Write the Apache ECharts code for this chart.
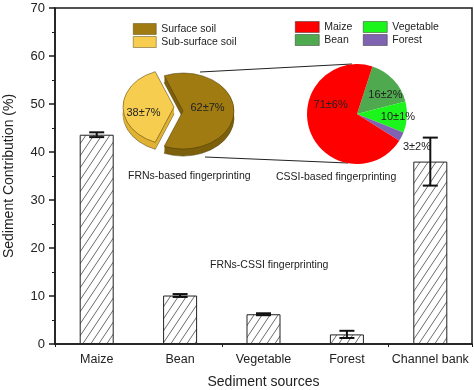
<!DOCTYPE html>
<html>
<head>
<meta charset="utf-8">
<script src="https://cdn.jsdelivr.net/npm/echarts@6/dist/echarts.min.js"></script>
<style>html,body{margin:0;padding:0;background:#fff}#c{width:474px;height:390px}</style>
</head>
<body>
<div id="c"></div>
<script>
// ---- data ----
const categories = ['Maize', 'Bean', 'Vegetable', 'Forest', 'Channel bank'];
const contribution = [43.6, 10.1, 6.2, 2.0, 38.0];
const contributionErr = [0.5, 0.3, 0.2, 0.75, 5.0];
const yMin = 0, yMax = 70, yStep = 10;

const soilNames = ['Surface soil', 'Sub-surface soil'];
const soilValues = [62, 38];
const soilErr = [7, 7];

const cssiNames = ['Bean', 'Vegetable', 'Forest', 'Maize'];
const cssiValues = [16, 10, 3, 71];
const cssiErr = [2, 1, 2, 6];

const FONT = 'Arial, "Liberation Sans", sans-serif';

// hatch pattern
const pat = document.createElement('canvas');
pat.width = 8; pat.height = 12;
(function () {
  const g = pat.getContext('2d');
  g.fillStyle = '#fff'; g.fillRect(0, 0, 8, 12);
  g.strokeStyle = '#444'; g.lineWidth = 0.8;
  for (let k = -1; k <= 1; k++) {
    g.beginPath(); g.moveTo(k * 8, 12); g.lineTo(k * 8 + 8, 0); g.stroke();
  }
})();

// 3D-ish soil pie (custom series)
const soilColors = ['#a07b12', '#f7cd4f'];
const soilSide = ['#7d600c', '#e0b234'];
const soilCenters = [[183, 111], [174, 107]];
const RX = 51, RY = 38, THICK = 7;
const soilTotal = soilValues.reduce((a, b) => a + b, 0);

function soilRender(i) {
  return function (params, api) {
    const v = api.value(0);
    let start = -Math.PI * soilValues[0] / soilTotal;
    for (let k = 0; k < i; k++) start += 2 * Math.PI * soilValues[k] / soilTotal;
    const end = start + 2 * Math.PI * v / soilTotal;
    const [cx, cy] = soilCenters[i];
    const sy = RY / RX;
    const children = [];
    for (let t = THICK; t >= 1; t--) {
      children.push({
        type: 'sector', x: cx, y: cy + t, scaleY: sy,
        shape: { cx: 0, cy: 0, r0: 0, r: RX, startAngle: start, endAngle: end, clockwise: true },
        style: { fill: soilSide[i], stroke: t === THICK ? '#4a3a08' : null, lineWidth: 0.6, strokeNoScale: true }
      });
    }
    children.push({
      type: 'sector', x: cx, y: cy, scaleY: sy,
      shape: { cx: 0, cy: 0, r0: 0, r: RX, startAngle: start, endAngle: end, clockwise: true },
      style: { fill: soilColors[i], stroke: '#4a3a08', lineWidth: 0.6, strokeNoScale: true }
    });
    const mid = (start + end) / 2;
    children.push({
      type: 'text',
      x: cx + Math.cos(mid) * RX * 0.5 + (i === 0 ? -1 : -5),
      y: cy + Math.sin(mid) * RY * 0.5 + (i === 0 ? -3 : 6),
      style: { text: v + '\u00b1' + soilErr[i] + '%', font: '11px ' + FONT, fill: '#222', align: 'center', verticalAlign: 'middle' }
    });
    return { type: 'group', children: children };
  };
}

const labelOffsets = { Bean: [8, 0], Vegetable: [13, 1], Forest: [35, 20], Maize: [0, -19] };
const cssiColors = { Maize: '#ff0000', Bean: '#4faa4f', Vegetable: '#1cf51c', Forest: '#7f62b0' };

const legendText = { fontSize: 10.5, color: '#222', lineHeight: 12, fontFamily: FONT };

const chart = echarts.init(document.getElementById('c'), null, { renderer: 'canvas' });
chart.setOption({
  animation: false,
  backgroundColor: '#fff',
  textStyle: { fontFamily: FONT },
  grid: { left: 55, right: 2, top: 8, bottom: 46, outerBoundsMode: 'none', containLabel: false,
    show: true, borderColor: '#1a1a1a', borderWidth: 1.5, backgroundColor: 'transparent' },
  legend: [
    {
      data: soilNames, orient: 'vertical', left: 133, top: 23, padding: 0, itemGap: 1,
      itemWidth: 23, itemHeight: 11, icon: 'rect', selectedMode: false,
      itemStyle: { borderColor: '#5a4a10', borderWidth: 0.5 }, textStyle: legendText
    },
    {
      data: ['Maize', 'Bean'], orient: 'vertical', left: 295, top: 21, padding: 0, itemGap: 1,
      itemWidth: 24, itemHeight: 11, icon: 'rect', selectedMode: false,
      itemStyle: { borderColor: '#333', borderWidth: 0.5 }, textStyle: legendText
    },
    {
      data: ['Vegetable', 'Forest'], orient: 'vertical', left: 363, top: 21, padding: 0, itemGap: 1,
      itemWidth: 24, itemHeight: 11, icon: 'rect', selectedMode: false,
      itemStyle: { borderColor: '#333', borderWidth: 0.5 }, textStyle: legendText
    }
  ],
  xAxis: [
    {
      type: 'category', data: categories, position: 'bottom',
      name: 'Sediment sources', nameLocation: 'middle', nameGap: 31,
      nameTextStyle: { fontSize: 14, color: '#222', fontFamily: FONT },
      axisLine: { lineStyle: { color: '#1a1a1a', width: 1.5 } },
      axisTick: { alignWithLabel: true, length: 6, lineStyle: { color: '#1a1a1a', width: 1.5 } },
      axisLabel: { interval: 0, fontSize: 12.5, color: '#222', margin: 9, fontFamily: FONT }
    },
    {
      type: 'category', data: categories, position: 'bottom',
      axisLine: { show: false },
      axisTick: { show: true, alignWithLabel: false, length: 3, lineStyle: { color: '#1a1a1a', width: 1 } },
      axisLabel: { show: false }
    }
  ],
  yAxis: {
    type: 'value', min: yMin, max: yMax, interval: yStep,
    name: 'Sediment Contribution (%)', nameLocation: 'middle', nameGap: 39,
    nameTextStyle: { fontSize: 14, color: '#222', fontFamily: FONT },
    axisLine: { show: true, lineStyle: { color: '#1a1a1a', width: 1.5 } },
    axisTick: { show: true, length: 6, lineStyle: { color: '#1a1a1a', width: 1.5 } },
    minorTick: { show: true, splitNumber: 2, length: 3, lineStyle: { color: '#1a1a1a', width: 1 } },
    splitLine: { show: false },
    axisLabel: { fontSize: 13, color: '#222', margin: 10, fontFamily: FONT }
  },
  graphic: [
    { type: 'line', z: 0, shape: { x1: 200, y1: 72, x2: 352, y2: 64 }, style: { stroke: '#222', lineWidth: 1 } },
    { type: 'line', z: 0, shape: { x1: 205, y1: 157, x2: 348, y2: 163 }, style: { stroke: '#222', lineWidth: 1 } },
    { type: 'text', left: 128, top: 171, style: { text: 'FRNs-based fingerprinting', font: '10.5px ' + FONT, fill: '#222' } },
    { type: 'text', left: 276, top: 172, style: { text: 'CSSI-based fingerprinting', font: '10.5px ' + FONT, fill: '#222' } },
    { type: 'text', left: 210, top: 260, style: { text: 'FRNs-CSSI fingerprinting', font: '10.5px ' + FONT, fill: '#222' } }
  ],
  series: [
    {
      type: 'bar', name: 'Contribution', data: contribution, barWidth: 34, xAxisIndex: 0,
      itemStyle: { color: { image: pat, repeat: 'repeat' }, borderColor: '#222', borderWidth: 1 },
      emphasis: { disabled: true }, z: 2
    },
    {
      type: 'custom', name: 'err', xAxisIndex: 0,
      data: categories.map((c, i) => [i, contribution[i] - contributionErr[i], contribution[i] + contributionErr[i]]),
      renderItem: function (params, api) {
        const lo = api.coord([api.value(0), api.value(1)]);
        const hi = api.coord([api.value(0), api.value(2)]);
        const h = 7.5;
        const st = { stroke: '#111', lineWidth: 2 };
        return {
          type: 'group', children: [
            { type: 'line', shape: { x1: lo[0], y1: lo[1], x2: hi[0], y2: hi[1] }, style: st },
            { type: 'line', shape: { x1: lo[0] - h, y1: lo[1], x2: lo[0] + h, y2: lo[1] }, style: st },
            { type: 'line', shape: { x1: hi[0] - h, y1: hi[1], x2: hi[0] + h, y2: hi[1] }, style: st }
          ]
        };
      },
      z: 3
    },
    {
      type: 'custom', name: soilNames[0], coordinateSystem: 'none', data: [[soilValues[0]]],
      itemStyle: { color: soilColors[0] }, renderItem: soilRender(0), z: 5
    },
    {
      type: 'custom', name: soilNames[1], coordinateSystem: 'none', data: [[soilValues[1]]],
      itemStyle: { color: soilColors[1] }, renderItem: soilRender(1), z: 5
    },
    {
      type: 'pie', name: 'CSSI', center: [357, 114], radius: 50, startAngle: 72, clockwise: true,
      emphasis: { disabled: true }, z: 5,
      labelLine: { show: false },
      data: cssiNames.map((n, i) => ({
        name: n, value: cssiValues[i],
        itemStyle: { color: cssiColors[n] },
        label: { show: true, position: 'inside', offset: labelOffsets[n], fontSize: 11, color: '#222', fontFamily: FONT,
          formatter: cssiValues[i] + '\u00b1' + cssiErr[i] + '%' }
      }))
    }
  ]
});
</script>
</body>
</html>
